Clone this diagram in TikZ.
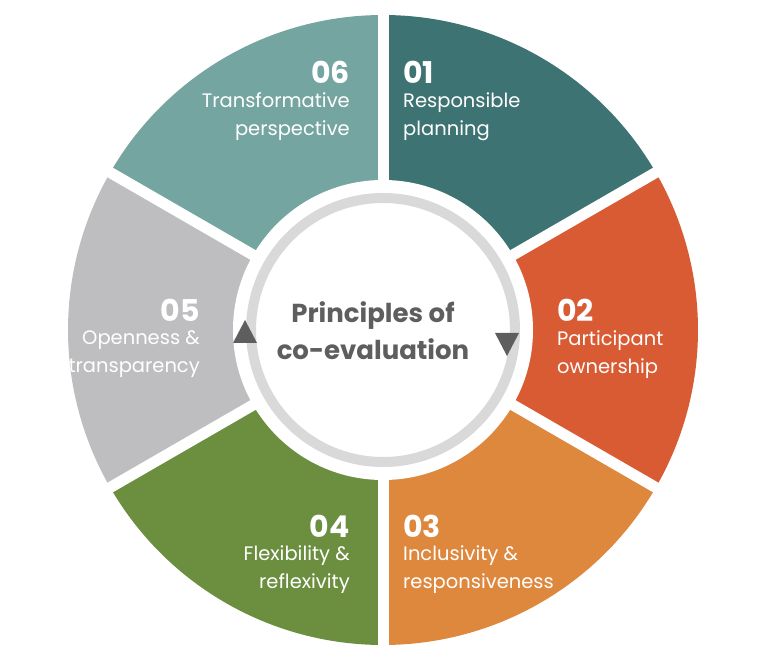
\documentclass[tikz,border=0pt]{standalone}
\usepackage{fontspec}
\setmainfont{Poppins}
\usetikzlibrary{positioning}
\definecolor{cteal}{HTML}{3D7372}
\definecolor{cred}{HTML}{D95B33}
\definecolor{corange}{HTML}{DE883E}
\definecolor{cgreen}{HTML}{6B8E3F}
\definecolor{cgrey}{HTML}{BEBEC0}
\definecolor{clteal}{HTML}{75A5A1}
\definecolor{ctext}{HTML}{5E5E5E}
\begin{document}
\begin{tikzpicture}[x=1pt,y=1pt,
    num/.style={font=\fontsize{30}{30}\selectfont\bfseries, text=white, inner sep=0pt},
    lbl/.style={font=\fontsize{19.5}{28}\selectfont, text=white, inner sep=0pt},
  ]
  \useasboundingbox (0,0) rectangle (768,654);
  \coordinate (c) at (383,324);
  % sectors
  \fill[cteal]   (c) -- ++(90:315)  arc[start angle=90,end angle=30,radius=315] -- cycle;
  \fill[cred]    (c) -- ++(30:315)  arc[start angle=30,end angle=-30,radius=315] -- cycle;
  \fill[corange] (c) -- ++(-30:315) arc[start angle=-30,end angle=-90,radius=315] -- cycle;
  \fill[cgreen]  (c) -- ++(-90:315) arc[start angle=-90,end angle=-150,radius=315] -- cycle;
  \fill[cgrey]   (c) -- ++(-150:315) arc[start angle=-150,end angle=-210,radius=315] -- cycle;
  \fill[clteal]  (c) -- ++(150:315) arc[start angle=150,end angle=90,radius=315] -- cycle;
  % gaps
  \foreach \a in {90,30,-30,-90,-150,150}
    \draw[white, line width=11pt] (c) -- ++(\a:330);
  \fill[white] (c) circle[radius=150];
  \draw[gray!30, line width=10pt] (c) circle[radius=132];
  % arrows
  \fill[ctext] (233,311) -- (257,311) -- (245,334) -- cycle;
  \fill[ctext] (495,321) -- (519,321) -- (507,298) -- cycle;
  \node[font=\fontsize{26}{37}\selectfont\bfseries, text=ctext, align=center] (title) at (373,323) {Principles of\\co-evaluation};
  % labels
  \node[num, anchor=base west] (n1) at (403,570) {01};
  \node[lbl, anchor=north west, align=left] (l1) at ([yshift=-8pt]n1.south west) {Responsible\\planning};
  \node[num, anchor=base west] (n2) at (557,332) {02};
  \node[lbl, anchor=north west, align=left] (l2) at ([yshift=-8pt]n2.south west) {Participant\\ownership};
  \node[num, anchor=base west] (n3) at (403,117) {03};
  \node[lbl, anchor=north west, align=left] (l3) at ([yshift=-8pt]n3.south west) {Inclusivity \&\\responsiveness};
  \node[num, anchor=base east] (n4) at (350,117) {04};
  \node[lbl, anchor=north east, align=right] (l4) at ([yshift=-8pt]n4.south east) {Flexibility \&\\reflexivity};
  \node[num, anchor=base east] (n5) at (200,332) {05};
  \node[lbl, anchor=north east, align=right] (l5) at ([yshift=-8pt]n5.south east) {Openness \&\\transparency};
  \node[num, anchor=base east] (n6) at (350,570) {06};
  \node[lbl, anchor=north east, align=right] (l6) at ([yshift=-8pt]n6.south east) {Transformative\\perspective};
\end{tikzpicture}
\end{document}
